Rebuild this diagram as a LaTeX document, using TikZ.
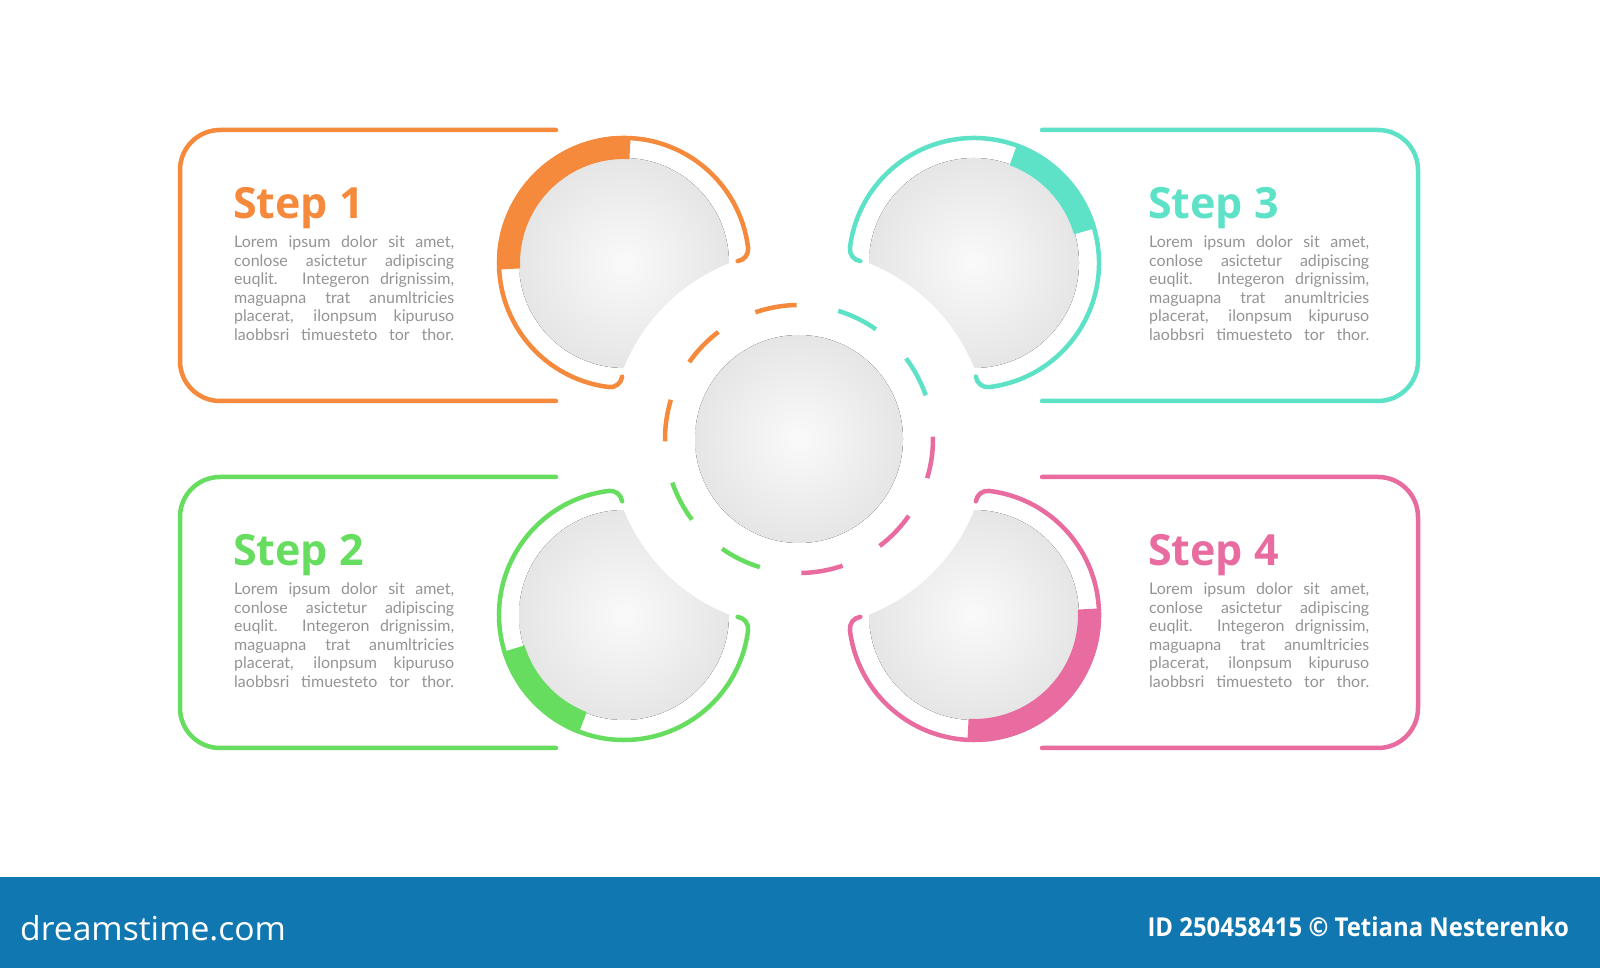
\documentclass[tikz,border=0pt]{standalone}
\usepackage{fontspec}
\usepackage[svgnames]{xcolor}
\usepackage{tikz}
\newfontfamily\titlefont{Open Sans}
\newfontfamily\bodyfont{Lato}
\definecolor{stepA}{RGB}{245,138,60}
\definecolor{stepB}{RGB}{102,221,94}
\definecolor{stepC}{RGB}{94,226,199}
\definecolor{stepD}{RGB}{232,108,160}
\definecolor{banner}{RGB}{17,119,176}
\tikzset{
  box/.style={draw=#1, line width=4.5pt, line cap=round, rounded corners=40pt},
  ring/.style={draw=#1, line width=4.5pt, line cap=round},
  dashring/.style={draw=#1, line width=4.5pt},
  disc/.style={shade, inner color=black!2, outer color=black!10},
  title/.style={text=#1, font=\titlefont\bfseries\fontsize{43}{43}\selectfont, inner sep=0, anchor=base west},
  body/.style={text=black!42, font=\bodyfont\fontsize{16}{18.5}\selectfont, align=left, inner sep=0, anchor=base west}
}
\newcommand{\loremtext}{%
\makebox[220pt][s]{Lorem ipsum dolor sit amet,}\\
\makebox[220pt][s]{conlose asictetur adipiscing}\\
\makebox[220pt][s]{euqlit. Integeron drignissim,}\\
\makebox[220pt][s]{maguapna trat anumltricies}\\
\makebox[220pt][s]{placerat, ilonpsum kipuruso}\\
\makebox[220pt][s]{laobbsri timuesteto tor thor.}}
% #1 centre, #2 colour, #3 first end, #4 last end
\newcommand{\steparc}[4]{%
  \draw[ring=#2] (#1) ++(#3:113) ++(#3-90:12) arc[start angle=#3-90, end angle=#3, radius=12]
    arc[start angle=#3, end angle=#4, radius=125] arc[start angle=#4, end angle=#4+90, radius=12];}
% #1 centre, #2 colour, #3 from, #4 to
\newcommand{\stepband}[4]{%
  \fill[#2] (#1) ++(#3:104) arc[start angle=#3, end angle=#4, radius=104] -- ++(#4:23)
    arc[start angle=#4, end angle=#3, radius=127] -- cycle;}

\begin{document}
\begin{tikzpicture}[x=1pt, y=1pt]
\useasboundingbox (0,0) rectangle (1600,968);
\fill[white] (0,0) rectangle (1600,968);

\coordinate (c0) at (799,529);
\coordinate (c1) at (624,705);
\coordinate (c2) at (624,353);
\coordinate (c3) at (974,705);
\coordinate (c4) at (974,353);

% frames
\draw[box=stepA] (556,838) -- (180,838) -- (180,567) -- (556,567);
\draw[box=stepB] (556,491) -- (180,491) -- (180,220) -- (556,220);
\draw[box=stepC] (1042,838) -- (1418,838) -- (1418,567) -- (1042,567);
\draw[box=stepD] (1042,491) -- (1418,491) -- (1418,220) -- (1042,220);

% grey discs, cut by the white halo
\foreach \c in {c1,c2,c3,c4}
  \fill[disc] (\c) circle[radius=105];
\fill[white] (c0) circle[radius=189];

% rings
\steparc{c1}{stepA}{7}{263}
\steparc{c2}{stepB}{97}{353}
\steparc{c3}{stepC}{-83}{173}
\steparc{c4}{stepD}{187}{443}
\stepband{c1}{stepA}{87}{183}
\stepband{c2}{stepB}{197}{249}
\stepband{c3}{stepC}{16}{70}
\stepband{c4}{stepD}{-93}{3}

% centre
\fill[disc] (c0) circle[radius=104];
\foreach \k/\col in {0/stepD,1/stepC,2/stepC,3/stepA,4/stepA,5/stepA,6/stepB,7/stepB,8/stepD,9/stepD}
  \draw[dashring=\col] (c0) ++({-17+36*\k}:134) arc[start angle={-17+36*\k}, delta angle=18, radius=134];

% texts (base = last line)
\node[title=stepA] (h1) at (233,749) {Step 1};
\node[title=stepB] (h2) at (233,402) {Step 2};
\node[title=stepC] (h3) at (1148,749) {Step 3};
\node[title=stepD] (h4) at (1148,402) {Step 4};
\node[body] (t1) at (234,627.5) {\loremtext};
\node[body] (t2) at (234,280.5) {\loremtext};
\node[body] (t3) at (1149,627.5) {\loremtext};
\node[body] (t4) at (1149,280.5) {\loremtext};

% banner
\fill[banner] (0,0) rectangle (1600,91);
\node[anchor=base west, inner sep=0, text=white, font=\titlefont\fontsize{33}{33}\selectfont] (logo) at (20,27) {\scalebox{1.02}[1]{dreamstime.com}};
\node[anchor=base east, inner sep=0, text=white, font=\titlefont\bfseries\fontsize{26}{26}\selectfont] (credit) at (1569,31) {\scalebox{0.92}[1]{ID 250458415 © Tetiana Nesterenko}};
\end{tikzpicture}
\end{document}
